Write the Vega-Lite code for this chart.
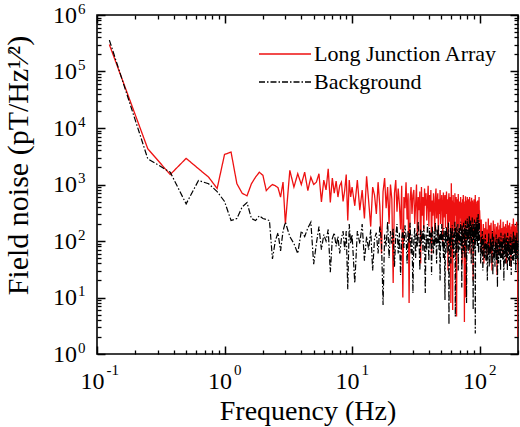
{
"$schema":"https://vega.github.io/schema/vega-lite/v6.json",
"width":421,"height":339,
"autosize":"none",
"padding":{"left":97,"top":15,"right":2,"bottom":73},
"config":{"view":{"stroke":"black","strokeWidth":1.6},"font":"Liberation Serif, DejaVu Serif, serif","axis":{"grid":false,"tickColor":"black","labelColor":"black","titleColor":"black","labelFont":"Liberation Serif, DejaVu Serif, serif","titleFont":"Liberation Serif, DejaVu Serif, serif","tickWidth":1.3}},
"datasets":{
"spec":[
{"f":0.125,"r":300000,"k":360000},{"f":0.25,"r":4300,"k":2860},{"f":0.375,"r":1500,"k":1650},{"f":0.5,"r":2900,"k":454},{"f":0.625,"r":1900,"k":1180},{"f":0.75,"r":1350,"k":1030},{"f":0.875,"r":850,"k":750},{"f":1.0,"r":3400,"k":500},{"f":1.125,"r":3750,"k":230},{"f":1.25,"r":1030,"k":250},{"f":1.375,"r":700,"k":400},{"f":1.5,"r":630,"k":480},{"f":1.625,"r":1030,"k":250},{"f":1.75,"r":1350,"k":230},{"f":1.875,"r":1650,"k":280},{"f":2.0,"r":1450,"k":250},{"f":2.125,"r":780,"k":240},{"f":2.25,"r":900,"k":230},{"f":2.375,"r":1000,"k":48},{"f":2.5,"r":950,"k":100},{"f":2.625,"r":880,"k":140},{"f":2.75,"r":600,"k":67},{"f":2.875,"r":1100,"k":150},{"f":3.0,"r":200,"k":215},
{"f":3.25,"r":1780,"k":120},{"f":3.5,"r":900,"k":90},{"f":3.75,"r":1550,"k":60},{"f":4.0,"r":1000,"k":150},{"f":4.25,"r":1650,"k":120},{"f":4.5,"r":780,"k":170},{"f":4.75,"r":1350,"k":215},{"f":5.0,"r":1000,"k":39},{"f":5.25,"r":1100,"k":90},{"f":5.5,"r":1550,"k":180},{"f":5.75,"r":490,"k":70},{"f":6.0,"r":1200,"k":130},{"f":6.25,"r":800,"k":100},{"f":6.5,"r":1900,"k":160},{"f":6.75,"r":480,"k":28},{"f":7.0,"r":1300,"k":110},{"f":7.25,"r":700,"k":140},{"f":7.5,"r":1150,"k":80},{"f":7.75,"r":600,"k":120},{"f":8.0,"r":950,"k":60},{"f":8.25,"r":1100,"k":110},{"f":8.5,"r":500,"k":150},{"f":8.75,"r":780,"k":70},{"f":9.0,"r":1500,"k":150},{"f":9.25,"r":230,"k":14},{"f":9.5,"r":1200,"k":200},{"f":9.75,"r":600,"k":90},{"f":10.0,"r":900,"k":130},
{"f":10.5,"r":420,"k":18},{"f":11,"r":1200,"k":150},{"f":11.5,"r":350,"k":90},{"f":12,"r":800,"k":200},{"f":12.5,"r":250,"k":45},{"f":13,"r":1400,"k":120},{"f":13.5,"r":500,"k":70},{"f":14,"r":180,"k":160},{"f":14.5,"r":900,"k":30},{"f":15,"r":650,"k":110},
{"f":15.5,"r":300,"k":140},{"f":16,"r":1100,"k":60},{"f":16.5,"r":420,"k":180},{"f":17,"r":60,"k":100},{"f":17.5,"r":750,"k":7.4},{"f":18,"r":1300,"k":130},{"f":18.5,"r":380,"k":80},{"f":19,"r":900,"k":220},{"f":19.5,"r":200,"k":50},{"f":20,"r":1000,"k":150},
{"f":20.5,"r":550,"k":90},{"f":21,"r":18,"k":170},{"f":21.5,"r":700,"k":35},{"f":22,"r":1200,"k":120},{"f":22.5,"r":330,"k":200},{"f":23,"r":850,"k":60},{"f":23.5,"r":450,"k":140},{"f":24,"r":160,"k":25},{"f":24.5,"r":950,"k":110},{"f":25,"r":10,"k":160},
{"f":25.5,"r":600,"k":75},{"f":26,"r":380,"k":190},{"f":26.5,"r":1100,"k":120},{"f":27,"r":240,"k":40},{"f":27.5,"r":700,"k":150},{"f":28,"r":8,"k":90},{"f":28.5,"r":520,"k":210},{"f":29,"r":900,"k":60},{"f":29.5,"r":300,"k":130},{"f":30,"r":650,"k":12},
{"f":30.5,"r":800,"k":100},{"f":31,"r":200,"k":170},{"f":31.5,"r":450,"k":50},{"f":32,"r":1000,"k":140},{"f":32.5,"r":120,"k":80},{"f":33,"r":600,"k":220},{"f":33.5,"r":350,"k":110},{"f":34,"r":750,"k":30},{"f":34.5,"r":40,"k":160},{"f":35,"r":900,"k":90},
{"f":35.5,"r":280,"k":150},{"f":36,"r":600,"k":60},{"f":36.5,"r":150,"k":190},{"f":37,"r":850,"k":100},{"f":37.5,"r":420,"k":12},{"f":38,"r":700,"k":130},{"f":38.5,"r":230,"k":70},{"f":39,"r":500,"k":200},{"f":39.5,"r":950,"k":110},{"f":40,"r":180,"k":45},
{"f":40.5,"r":650,"k":170},{"f":41,"r":330,"k":90},{"f":41.5,"r":800,"k":140},{"f":42,"r":60,"k":25},{"f":42.5,"r":520,"k":180},{"f":43,"r":280,"k":100},{"f":43.5,"r":700,"k":60},{"f":44,"r":400,"k":150},{"f":44.5,"r":150,"k":80},{"f":45,"r":600,"k":210},
{"f":45.5,"r":850,"k":120},{"f":46,"r":250,"k":40},{"f":46.5,"r":480,"k":160},{"f":47,"r":700,"k":90},{"f":47.5,"r":120,"k":190},{"f":48,"r":550,"k":70},{"f":48.5,"r":300,"k":130},{"f":49,"r":800,"k":20},{"f":49.5,"r":200,"k":150},{"f":50,"r":450,"k":100},
{"f":50.5,"r":650,"k":200},{"f":51,"r":380,"k":80},{"f":51.5,"r":90,"k":130},{"f":52,"r":720,"k":50},{"f":52.5,"r":260,"k":170},{"f":53,"r":500,"k":110},{"f":53.5,"r":650,"k":9},{"f":54,"r":170,"k":150},{"f":54.5,"r":420,"k":90},{"f":55,"r":750,"k":180},
{"f":55.5,"r":300,"k":60},{"f":56,"r":550,"k":140},{"f":56.5,"r":30,"k":100},{"f":57,"r":480,"k":210},{"f":57.5,"r":700,"k":3.3},{"f":58,"r":220,"k":120},{"f":58.5,"r":600,"k":80},{"f":59,"r":350,"k":170},{"f":59.5,"r":8,"k":40},{"f":60,"r":1050,"k":150},
{"f":60.5,"r":250,"k":110},{"f":61,"r":520,"k":190},{"f":61.5,"r":6,"k":70},{"f":62,"r":650,"k":130},{"f":62.5,"r":330,"k":50},{"f":63,"r":480,"k":160},{"f":63.5,"r":150,"k":100},{"f":64,"r":700,"k":220},{"f":64.5,"r":280,"k":4.6},{"f":65,"r":450,"k":120},
{"f":65.5,"r":600,"k":180},{"f":66,"r":4.6,"k":60},{"f":66.5,"r":380,"k":140},{"f":67,"r":550,"k":90},{"f":67.5,"r":200,"k":200},{"f":68,"r":680,"k":30},{"f":68.5,"r":300,"k":150},{"f":69,"r":90,"k":110},{"f":69.5,"r":500,"k":170},{"f":70,"r":420,"k":70},
{"f":70.5,"r":250,"k":130},{"f":71,"r":600,"k":220},{"f":71.5,"r":150,"k":80},{"f":72,"r":480,"k":160},{"f":72.5,"r":350,"k":15},{"f":73,"r":40,"k":190},{"f":73.5,"r":550,"k":100},{"f":74,"r":280,"k":140},{"f":74.5,"r":650,"k":60},{"f":75,"r":180,"k":210},
{"f":75.5,"r":450,"k":120},{"f":76,"r":3.7,"k":170},{"f":76.5,"r":500,"k":50},{"f":77,"r":300,"k":150},{"f":77.5,"r":620,"k":230},{"f":78,"r":10,"k":90},{"f":78.5,"r":380,"k":180},{"f":79,"r":520,"k":8},{"f":79.5,"r":200,"k":140},{"f":80,"r":600,"k":250},
{"f":80.5,"r":330,"k":100},{"f":81,"r":480,"k":160},{"f":81.5,"r":120,"k":60},{"f":82,"r":550,"k":200},{"f":82.5,"r":250,"k":130},{"f":83,"r":420,"k":280},{"f":83.5,"r":600,"k":70},{"f":84,"r":60,"k":180},{"f":84.5,"r":350,"k":110},{"f":85,"r":500,"k":230},
{"f":85.5,"r":200,"k":150},{"f":86,"r":450,"k":40},{"f":86.5,"r":580,"k":190},{"f":87,"r":150,"k":120},{"f":87.5,"r":380,"k":260},{"f":88,"r":520,"k":90},{"f":88.5,"r":280,"k":170},{"f":89,"r":20,"k":6},{"f":89.5,"r":480,"k":140},{"f":90,"r":350,"k":200},
{"f":90.5,"r":550,"k":110},{"f":91,"r":220,"k":240},{"f":91.5,"r":420,"k":70},{"f":92,"r":300,"k":180},{"f":92.5,"r":650,"k":2.3},{"f":93,"r":120,"k":150},{"f":93.5,"r":400,"k":220},{"f":94,"r":500,"k":100},{"f":94.5,"r":180,"k":190},{"f":95,"r":450,"k":130},
{"f":95.5,"r":380,"k":260},{"f":96,"r":250,"k":80},{"f":96.5,"r":520,"k":170},{"f":97,"r":300,"k":120},{"f":97.5,"r":450,"k":300},{"f":98,"r":150,"k":60},{"f":98.5,"r":400,"k":190},{"f":99,"r":600,"k":140},{"f":99.5,"r":250,"k":230},{"f":100,"r":350,"k":100},
{"f":101,"r":180,"k":90},{"f":102,"r":90,"k":40},{"f":103,"r":240,"k":120},{"f":104,"r":60,"k":60},{"f":105,"r":150,"k":150},{"f":106,"r":110,"k":30},{"f":107,"r":200,"k":80},{"f":108,"r":40,"k":110},{"f":109,"r":130,"k":50},{"f":110,"r":170,"k":70},
{"f":111,"r":80,"k":130},{"f":112,"r":220,"k":45},{"f":113,"r":120,"k":90},{"f":114,"r":50,"k":65},{"f":115,"r":160,"k":20},{"f":116,"r":100,"k":100},{"f":117,"r":250,"k":55},{"f":118,"r":70,"k":140},{"f":119,"r":140,"k":35},{"f":120,"r":190,"k":80},
{"f":121,"r":60,"k":60},{"f":122,"r":130,"k":110},{"f":123,"r":210,"k":40},{"f":124,"r":90,"k":95},{"f":125,"r":30,"k":70},{"f":126,"r":150,"k":150},{"f":127,"r":110,"k":25},{"f":128,"r":230,"k":85},{"f":129,"r":80,"k":120},{"f":130,"r":160,"k":50},
{"f":131,"r":120,"k":75},{"f":132,"r":200,"k":35},{"f":133,"r":70,"k":100},{"f":134,"r":140,"k":60},{"f":135,"r":100,"k":130},{"f":136,"r":180,"k":45},{"f":137,"r":25,"k":90},{"f":138,"r":130,"k":15},{"f":139,"r":210,"k":110},{"f":140,"r":90,"k":65},
{"f":141,"r":160,"k":40},{"f":142,"r":110,"k":120},{"f":143,"r":60,"k":80},{"f":144,"r":190,"k":55},{"f":145,"r":130,"k":95},{"f":146,"r":240,"k":30},{"f":147,"r":80,"k":140},{"f":148,"r":150,"k":70},{"f":149,"r":100,"k":50},{"f":150,"r":170,"k":100},
{"f":151,"r":50,"k":85},{"f":152,"r":140,"k":45},{"f":153,"r":220,"k":125},{"f":154,"r":90,"k":60},{"f":155,"r":120,"k":20},{"f":156,"r":180,"k":105},{"f":157,"r":70,"k":70},{"f":158,"r":160,"k":135},{"f":159,"r":110,"k":40},{"f":160,"r":200,"k":90},
{"f":161,"r":130,"k":60},{"f":162,"r":40,"k":115},{"f":163,"r":170,"k":50},{"f":164,"r":100,"k":80},{"f":165,"r":230,"k":30},{"f":166,"r":80,"k":140},{"f":167,"r":150,"k":65},{"f":168,"r":120,"k":95},{"f":169,"r":190,"k":45},{"f":170,"r":60,"k":110},
{"f":171,"r":140,"k":75},{"f":172,"r":210,"k":35},{"f":173,"r":90,"k":120},{"f":174,"r":160,"k":55},{"f":175,"r":110,"k":90},{"f":176,"r":35,"k":130},{"f":177,"r":180,"k":25},{"f":178,"r":130,"k":85},{"f":179,"r":70,"k":60},{"f":180,"r":200,"k":100},
{"f":181,"r":100,"k":45},{"f":182,"r":170,"k":110},{"f":183,"r":120,"k":70},{"f":184,"r":250,"k":150},{"f":185,"r":80,"k":40},{"f":186,"r":150,"k":80},{"f":187,"r":60,"k":95},{"f":188,"r":190,"k":55},{"f":189,"r":110,"k":125},{"f":190,"r":140,"k":65},
{"f":191,"r":180,"k":90},{"f":192,"r":70,"k":30},{"f":193,"r":160,"k":115},{"f":194,"r":120,"k":60},{"f":195,"r":220,"k":85},{"f":196,"r":90,"k":140},{"f":197,"r":150,"k":50},{"f":198,"r":100,"k":75},{"f":199,"r":60,"k":100},{"f":200,"r":2,"k":45}
],
"frame":[{"f":0.1,"v":1},{"f":200,"v":1000000}]
},
"layer":[
{
"data":{"name":"spec"},
"transform":[{"fold":["r","k"],"as":["s","v"]},{"filter":"datum.s==='r'"}],
"mark":{"type":"line","strokeWidth":1.3,"clip":true},
"encoding":{
"x":{"field":"f","type":"quantitative","scale":{"type":"log","domain":[0.1,200],"nice":false},
"axis":{"orient":"bottom","values":[0.1,1,10,100],"labelExpr":"'10'","labelFontSize":24,"labelPadding":23,"labelOffset":-5,"labelFlush":false,"labelOverlap":false,"tickSize":-8,"tickWidth":1.5,"domain":false,"title":"Frequency (Hz)","titleFontSize":28,"titleFontWeight":"normal","titlePadding":4}},
"y":{"field":"v","type":"quantitative","scale":{"type":"log","domain":[1,1000000],"nice":false},
"axis":{"orient":"left","values":[1,10,100,1000,10000,100000,1000000],"labelExpr":"'10'","labelFontSize":24,"labelPadding":28.5,"labelFlush":false,"labelOverlap":false,"tickSize":-8,"tickWidth":1.5,"domain":false,"title":"Field noise (pT/Hz¹⁄²)","titleFontSize":30,"titleFontWeight":"normal","titleX":-64,"titleY":150,"titleAngle":-90,"titleAlign":"center","titleBaseline":"bottom"}},
"color":{"field":"s","type":"nominal","scale":{"domain":["r","k"],"range":["#ee1111","#000000"]},
"legend":{"orient":"none","legendX":177,"legendY":28,"title":null,"padding":0,"labelExpr":"datum.label==='r'?'Long Junction Array':'Background'","labelFont":"Liberation Serif, DejaVu Serif, serif","labelFontSize":22,"labelLimit":400,"labelColor":"black","symbolType":"M-13,0H13","symbolSize":16,"symbolStrokeWidth":1.5,"labelOffset":18,"rowPadding":6}},
"strokeDash":{"field":"s","type":"nominal","scale":{"domain":["r","k"],"range":[[1,0],[6,2,1.5,2]]},
"legend":{"orient":"none","legendX":177,"legendY":28,"title":null,"padding":0,"labelExpr":"datum.label==='r'?'Long Junction Array':'Background'","labelFont":"Liberation Serif, DejaVu Serif, serif","labelFontSize":22,"labelLimit":400,"labelColor":"black","symbolType":"M-13,0H13","symbolSize":16,"symbolStrokeWidth":1.5,"labelOffset":18,"rowPadding":6}}
}
},
{
"data":{"name":"spec"},
"transform":[{"fold":["r","k"],"as":["s","v"]},{"filter":"datum.s==='k'"}],
"mark":{"type":"line","strokeWidth":1.2,"clip":true},
"encoding":{
"x":{"field":"f","type":"quantitative","scale":{"type":"log","domain":[0.1,200],"nice":false},
"axis":{"orient":"top","values":[0.1,1,10,100],"labels":false,"tickSize":-8,"tickWidth":1.5,"domain":false,"title":null}},
"y":{"field":"v","type":"quantitative","scale":{"type":"log","domain":[1,1000000],"nice":false},
"axis":{"orient":"right","values":[1,10,100,1000,10000,100000,1000000],"labels":false,"tickSize":-8,"tickWidth":1.5,"domain":false,"title":null}},
"color":{"field":"s","type":"nominal","scale":{"domain":["r","k"],"range":["#ee1111","#000000"]},
"legend":{"orient":"none","legendX":177,"legendY":28,"title":null,"padding":0,"labelExpr":"datum.label==='r'?'Long Junction Array':'Background'","labelFont":"Liberation Serif, DejaVu Serif, serif","labelFontSize":22,"labelLimit":400,"labelColor":"black","symbolType":"M-13,0H13","symbolSize":16,"symbolStrokeWidth":1.5,"labelOffset":18,"rowPadding":6}},
"strokeDash":{"field":"s","type":"nominal","scale":{"domain":["r","k"],"range":[[1,0],[6,2,1.5,2]]},
"legend":{"orient":"none","legendX":177,"legendY":28,"title":null,"padding":0,"labelExpr":"datum.label==='r'?'Long Junction Array':'Background'","labelFont":"Liberation Serif, DejaVu Serif, serif","labelFontSize":22,"labelLimit":400,"labelColor":"black","symbolType":"M-13,0H13","symbolSize":16,"symbolStrokeWidth":1.5,"labelOffset":18,"rowPadding":6}}
}
},
{
"data":{"name":"frame"},
"mark":{"type":"point","opacity":0},
"encoding":{
"x":{"field":"f","type":"quantitative","scale":{"type":"log","domain":[0.1,200],"nice":false},
"axis":{"orient":"bottom","values":[0.1,1,10,100],"labelExpr":"datum.value<0.5?'-1':datum.value<5?'0':datum.value<50?'1':'2'","labelFontSize":15,"labelAlign":"left","labelPadding":8,"labelOffset":9,"ticks":false,"domain":false,"labelFlush":false,"labelOverlap":false,"title":null}},
"y":{"field":"v","type":"quantitative","scale":{"type":"log","domain":[1,1000000],"nice":false},
"axis":{"orient":"left","values":[1,10,100,1000,10000,100000,1000000],"labelExpr":"''+round(log(datum.value)/LN10)","labelFontSize":15,"labelAlign":"left","labelPadding":19.5,"labelOffset":-7,"ticks":false,"domain":false,"labelFlush":false,"labelOverlap":false,"title":null}}
}
},
{
"data":{"name":"frame"},
"mark":{"type":"point","opacity":0},
"encoding":{
"x":{"field":"f","type":"quantitative","scale":{"type":"log","domain":[0.1,200],"nice":false},
"axis":{"orient":"bottom","values":[0.2,0.3,0.4,0.5,0.6,0.7,0.8,0.9,2,3,4,5,6,7,8,9,20,30,40,50,60,70,80,90,200],"labels":false,"tickSize":-4,"domain":false,"title":null}},
"y":{"field":"v","type":"quantitative","scale":{"type":"log","domain":[1,1000000],"nice":false},
"axis":{"orient":"left","values":[2,3,4,5,6,7,8,9,20,30,40,50,60,70,80,90,200,300,400,500,600,700,800,900,2000,3000,4000,5000,6000,7000,8000,9000,20000,30000,40000,50000,60000,70000,80000,90000,200000,300000,400000,500000,600000,700000,800000,900000],"labels":false,"tickSize":-4,"domain":false,"title":null}}
}
},
{
"data":{"name":"frame"},
"mark":{"type":"point","opacity":0},
"encoding":{
"x":{"field":"f","type":"quantitative","scale":{"type":"log","domain":[0.1,200],"nice":false},
"axis":{"orient":"top","values":[0.2,0.3,0.4,0.5,0.6,0.7,0.8,0.9,2,3,4,5,6,7,8,9,20,30,40,50,60,70,80,90,200],"labels":false,"tickSize":-4,"domain":false,"title":null}},
"y":{"field":"v","type":"quantitative","scale":{"type":"log","domain":[1,1000000],"nice":false},
"axis":{"orient":"right","values":[2,3,4,5,6,7,8,9,20,30,40,50,60,70,80,90,200,300,400,500,600,700,800,900,2000,3000,4000,5000,6000,7000,8000,9000,20000,30000,40000,50000,60000,70000,80000,90000,200000,300000,400000,500000,600000,700000,800000,900000],"labels":false,"tickSize":-4,"domain":false,"title":null}}
}
}
],
"resolve":{"axis":{"x":"independent","y":"independent"}}
}
